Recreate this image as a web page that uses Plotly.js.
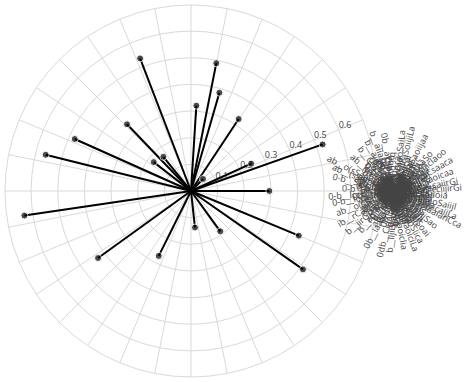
<!DOCTYPE html>
<html>
<head>
<meta charset="utf-8">
<script src="https://cdn.plot.ly/plotly-3.0.1.min.js"></script>
<style>html,body{margin:0;padding:0;background:#fff;}#chart{width:474px;height:382px;}</style>
</head>
<body>
<div id="chart"></div>
<script>
// spoke values (radius) and directions (degrees, counter-clockwise from east)
var spokeValues = [0.533, 0.489, 0.384, 0.321, 0.324, 0.347, 0.478, 0.562, 0.165, 0.177, 0.248,
                   0.524, 0.064, 0.294, 0.632, 0.438, 0.513, 0.138, 0.187, 0.272, 0.430];
var spokeAngles = [111.0, 78.8, 73.9, 86.4, 56.5, 133.8, 155.9, 166.0, 128.9, 142.2, 24.4,
                   19.5, 45.0, 0.0, 188.4, 337.5, 325.0, 276.2, 306.0, 243.6, 215.8];
var radialTicks = [0.1, 0.2, 0.3, 0.4, 0.5, 0.6];
var radialTickText = ['0.1', '0.2', '0.3', '0.4', '0.5', '0.6'];

// crowded category labels drawn on the right (label text and its rotation)
var clusterLabels = [
  // long
  "0-b__lcciijirGiaoSaCcaiaSlcciijirGi", "ab__o(sSaacilaijaCoilaSsaClaaianCca", "ib__rCaicaolcjliaLaSaoicaCsaaca",
  "0db__ClaaianCcaiijSaoilcaSoiijiLa", "b__aiicSlajirGiocaaCaaoSlica", "0-b__IcciijirGiaaSlacjioaCcaiirGi",
  "ab__oSaiaClaaianCcaliijSao", "b__lijiLaaciioSaCcajrGiaoSaiLa", "0b__aCsaacaiilcjirLaaSaoiclia",
  "b__rGiaiocSlaaCcaijiLaaSo", "0-b__SaicjlaiiaClaaianCcaoSaiijl", "ab__o(sSalcciijirGiaiaaSlaoicaa",
  "b__CcaSaiijiLaorGiacialSoai", "0b__laaSjicCsaacaiolaiaSaoiijaa", "b__aiiaLaCcaoSjlirGicaiSaolciLa",
  "0-b__lcciijirGiCsaacaSaoia", "ab__(sSaiolaiCcajiLaairSaoicaijLa", "b__jirGiaaClaaianCcaSoaiiclaoo",
  // medium
  "b__aiicSlajirGioca", "0b__laaSjicCsaacai", "ab__oSaiaClaaianCc", "b__lijiLaaciioS", "0-b__SaicjlaiiaClaaa",
  "ab__o(sSalcciijirG", "b__CcaSaiijiLa", "0b__iaaCcaSojirGilca", "b__SaaiolijiLaCca", "0-b__aClaaianCcaS",
  "ab__lcaiCsaacaSajoa", "b__aiiCcaSolcc", "0b__ClaaianCcaiaS", "b__SaiaojirGiCcalaa", "0-b__aiCsaacaSoli",
  "ab__lijiLaCcaaiSo", "b__o(sSaClaai", "0b__aaiSlcciijirGa", "b__CsaacaaiSolaji", "0-b__iaCcaSorGi",
  "b__iaoCcaSairGilc", "0b__SaalijiLaCcai", "ab__aClaaianCcaSoj", "0-b__o(sSaicirGia", "b__lcaiSaoCsaacaij",
  "0b__aiiCcaSalcjirG", "ab__ClaaianCcaijiL", "b__lcciijirGiSaoC", "0-b__aiSaCsaacaol", "b__iaoCcaSairGila",
  "0b__SaalijiLaCcaio", "ab__aClaaianCcaSo", "b__o(sSaicirGiaaC", "0-b__lcaiCsaacaSaj", "b__aiiCcaSolcciiji",
  "0b__ClaaianCcaiaSo", "ab__SaiaojirGiCca", "b__aiCsaacaSoliij", "0-b__lijiLaCcaaiS", "b__o(sSaClaaianCc",
  // short
  "b__aiCca", "0b__lSaij", "ab__Coai", "b__rGiaa", "0-b__Saic", "b__laiiC", "ab__oiSa", "0b__Ccai", "b__ijLaa", "0-b__aoiS",
  "b__Saaij", "ab__lcai", "0b__iaCo", "b__oSail", "0-b__Cai", "b__jiLao", "ab__aiSl", "0b__rGic", "b__aCsa", "0-b__ila",
  "b__lcij", "ab__SoCa", "0b__ajiL", "b__iaSo", "0-b__cCa", "b__aoli", "ab__irGi", "0b__Saol", "b__Claa", "0-b__ijS"
];
var clusterAngles = [
  -4, 27, -30, -76, 62, -10, 40, -84, 80, -48,
  14, -20, 52, -62, 70, 4, 22, -40,
  -88, -70, -57, -43, -35, -26, -16, -7, 2, 9,
  19, 31, 36, 46, 58, 66, 75, 85, -52, -66,
  -80, -61, -46, -38, -29, -22, -12, -3, 6, 12,
  16, 24, 33, 43, 50, 55, 63, 72, 78, 89,
  -88, -82, -76, -70, -64, -58, -52, -46, -40, -34,
  -28, -22, -16, -10, -4, 2, 8, 14, 20, 26,
  32, 38, 44, 50, 56, 62, 68, 74, 80, 86
];

var rr = [], tt = [], ms = [];
for (var i = 0; i < spokeValues.length; i++) {
  rr.push(0, spokeValues[i], null);
  tt.push(spokeAngles[i], spokeAngles[i], spokeAngles[i]);
  ms.push(0, 7, 0);
}

var traces = [{
  type: 'scatterpolar',
  mode: 'text',
  r: radialTicks,
  theta: radialTicks.map(function () { return 22.5; }),
  text: radialTickText,
  textposition: 'top right',
  textfont: {family: 'Open Sans, sans-serif', size: 9, color: '#444'},
  showlegend: false,
  hoverinfo: 'skip'
}, {
  type: 'scatterpolar',
  mode: 'lines+markers',
  r: rr,
  theta: tt,
  connectgaps: false,
  line: {color: '#000', width: 2},
  marker: {color: '#000', size: ms},
  showlegend: false,
  hoverinfo: 'skip'
}];

var annotations = clusterLabels.map(function (txt, k) {
  return {
    xref: 'paper', yref: 'paper', x: 0.8405, y: 0.5,
    xanchor: 'center', yanchor: 'middle',
    text: txt, textangle: clusterAngles[k], showarrow: false,
    font: {family: 'Open Sans, sans-serif', size: 9, color: '#444'}
  };
});

var layout = {
  width: 474, height: 382,
  margin: {l: 5, r: 5, t: 5, b: 5},
  paper_bgcolor: '#fff',
  showlegend: false,
  font: {family: 'Open Sans, sans-serif', color: '#444'},
  polar: {
    domain: {x: [0, 0.8017], y: [0, 1]},
    bgcolor: '#fff',
    radialaxis: {
      range: [0, 0.698], angle: 22.5, tickvals: radialTicks,
      showline: false, ticks: '', gridcolor: '#d9d9d9', showticklabels: false
    },
    angularaxis: {
      tickmode: 'linear', tick0: 0, dtick: 11.25, showticklabels: false,
      ticks: '', gridcolor: '#d9d9d9', linecolor: '#d9d9d9', showline: true
    }
  },
  annotations: annotations
};

Plotly.newPlot('chart', traces, layout, {staticPlot: true, displayModeBar: false});
</script>
</body>
</html>
